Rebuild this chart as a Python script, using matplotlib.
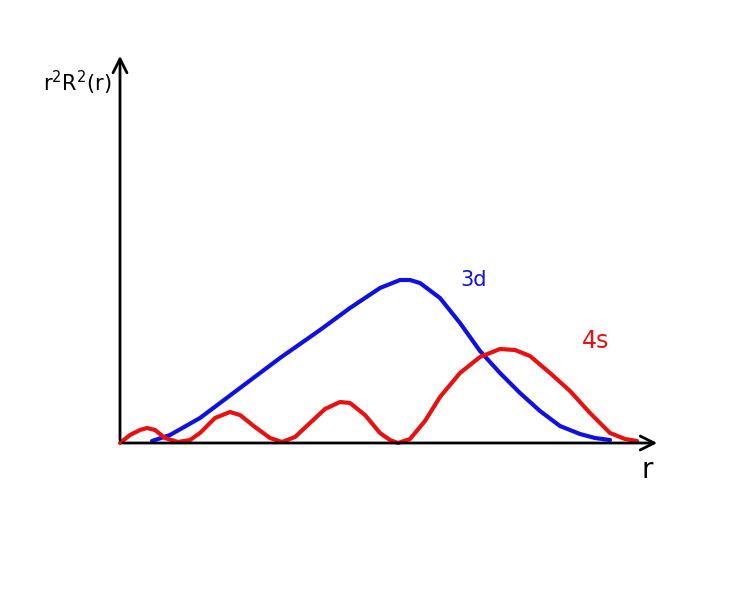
import matplotlib
matplotlib.use("Agg")
import matplotlib.pyplot as plt

r_4s = [0,10,20,27,35,45,58,70,80,95,110,120,135,150,162,175,190,205,220,230,245,260,270,278,290,305,320,340,360,380,395,410,430,450,470,490,505,517]
p_4s = [0,8,13,15,13,5,1,3,10,25,31,28,16,5,1,6,20,34,41,40,28,10,3,0,4,22,46,70,86,94,93,87,70,52,30,10,4,2]
r_3d = [32,50,80,120,160,200,230,260,280,290,300,320,340,360,380,400,420,440,460,475,490]
p_3d = [2,8,25,55,85,113,135,155,163,163,160,145,120,92,70,50,32,17,9,5,3]

fig = plt.figure(figsize=(7.43, 6), dpi=100)
ax = fig.add_axes([0, 0, 1, 1])
ax.set_xlim(-120, 623)
ax.set_ylim(-157, 443)
ax.axis("off")

ax.plot(r_3d, p_3d, color="#1010e0", lw=3, solid_capstyle="round")
ax.plot(r_4s, p_4s, color="#e81010", lw=3, solid_capstyle="round")

ax.annotate("", xy=(540, 0), xytext=(0, 0),
            arrowprops=dict(arrowstyle="->", lw=2, color="black", mutation_scale=25))
ax.annotate("", xy=(0, 390), xytext=(0, 0),
            arrowprops=dict(arrowstyle="->", lw=2, color="black", mutation_scale=25))

ax.text(-77, 360, r"r$^2$R$^2$(r)", fontsize=15, ha="left", va="center")
ax.text(522, -27, "r", fontsize=20, ha="left", va="center")
ax.text(340, 163, "3d", fontsize=15, color="#1010e0", ha="left", va="center")
ax.text(462, 102, "4s", fontsize=17, color="#e81010", ha="left", va="center")

fig.savefig("out.png", dpi=100)
